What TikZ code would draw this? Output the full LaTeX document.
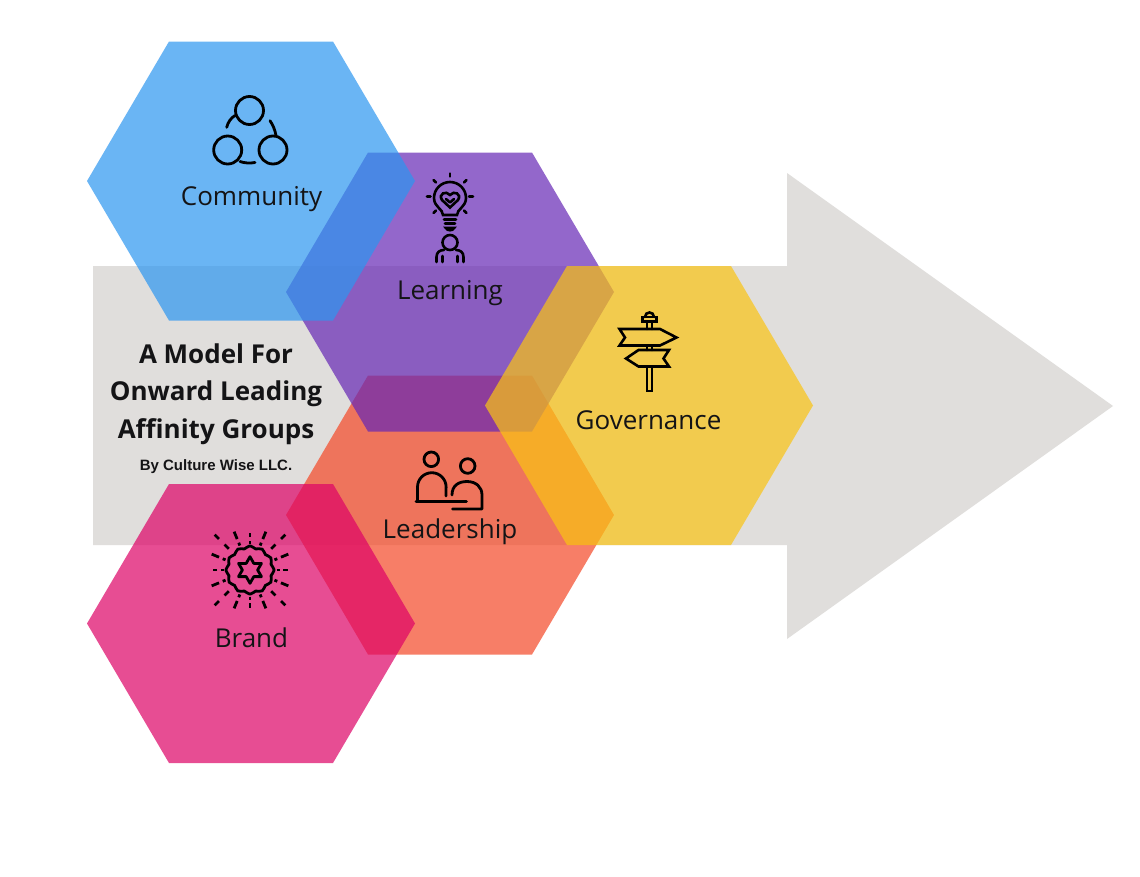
\documentclass[tikz,border=0pt]{standalone}
\usepackage{fontspec}
\setmainfont{Open Sans}
\newfontfamily\subfont{Liberation Sans}
\definecolor{hexblue}{RGB}{44,150,240}
\definecolor{hexpurple}{RGB}{102,39,181}
\definecolor{hexyellow}{RGB}{250,196,19}
\definecolor{hexorange}{RGB}{244,72,39}
\definecolor{hexpink}{RGB}{222,2,102}
\definecolor{arrowgrey}{RGB}{224,222,220}
\definecolor{inkcol}{RGB}{20,20,22}
\tikzset{
  hexa/.style={fill=#1,fill opacity=0.7,draw=none},
  icon/.style={draw=black,line width=2.8pt,line cap=round,line join=round},
  thin icon/.style={draw=black,line width=2.6pt,line cap=round,line join=miter},
  lab/.style={text=inkcol,font=\fontsize{26}{30}\selectfont,inner sep=0pt,anchor=base},
  ttl/.style={text=inkcol,font=\fontsize{26}{30}\selectfont\bfseries,inner sep=0pt,anchor=base},
  subttl/.style={text=inkcol,font=\fontsize{15}{18}\selectfont\subfont\bfseries,inner sep=0pt,anchor=base}
}
% hexagon with its left corner at (#1,#2)
\newcommand{\hexpath}[2]{(#1,#2) -- ++(82,-139.5) -- ++(164,0) -- ++(82,139.5) -- ++(-82,139.5) -- ++(-164,0) -- cycle}
\begin{document}
\begin{tikzpicture}[x=1pt,y=-1pt]
\useasboundingbox (0,0) rectangle (1140,876);
\fill[white] (0,0) rectangle (1140,876);
% arrow
\fill[arrowgrey] (93,266) -- (787,266) -- (787,173) -- (1113,406) -- (787,639) -- (787,545) -- (93,545) -- cycle;
% hexagons
\path[hexa=hexorange] \hexpath{286}{515};
\path[hexa=hexpurple] \hexpath{286}{292};
\path[hexa=hexblue] \hexpath{87}{181};
\path[hexa=hexpink] \hexpath{87}{623.5};
\path[hexa=hexyellow] \hexpath{485}{405.5};
% community icon
\begin{scope}[icon]
\draw (249.5,110.5) circle (14);
\draw (227.7,150) circle (14);
\draw (273,150) circle (14);
\draw (226.7,127.3) .. controls (228,122) and (231,118) .. (235,115.5);
\draw (270,120.7) .. controls (273,125) and (275,130) .. (276,135.5);
\draw (240,161.5) .. controls (244,163) and (250,163.5) .. (255,162.5);
\end{scope}
% learning icon
\begin{scope}[thin icon]
\draw (443,215) .. controls (443,209) and (434,207) .. (434,198) arc[start angle=180,end angle=360,radius=16] .. controls (466,207) and (457,209) .. (457,215) -- cycle;
\draw (444,219.5) -- (456,219.5);
\draw (445,223.5) -- (455,223.5);
\draw (446,228) .. controls (447,231) and (453,231) .. (454,228) -- cycle;
\draw (450,207.5) -- (442,200) .. controls (438,194) and (446,190) .. (450,195) .. controls (454,190) and (462,194) .. (458,200) -- cycle;
\draw (450,202.5) -- (446,199) (450,202.5) -- (454,199);
\draw (450,173.5) -- (450,176.5);
\draw (433.5,180) -- (436,182.5);
\draw (466.5,180) -- (464,182.5);
\draw (427,196.5) -- (430.5,196.5);
\draw (469,196.5) -- (473,196.5);
\draw (433.5,213) -- (436,210.5);
\draw (466.5,213) -- (464,210.5);
\draw (450,242.5) circle (7.5);
\draw (436.5,262) -- (436.5,257) .. controls (436.5,252) and (440,250) .. (444,250);
\draw (463.5,262) -- (463.5,257) .. controls (463.5,252) and (460,250) .. (456,250);
\draw (442.5,256) -- (442.5,262);
\draw (457.5,256) -- (457.5,262);
\end{scope}
% governance icon
\begin{scope}[thin icon]
\draw (619.5,329) -- (660,329) -- (676.5,337.5) -- (660,345.5) -- (619.5,345.5) -- (625,337.5) -- cycle;
\draw (669,350) -- (638.5,350) -- (626,358.5) -- (638.5,366.5) -- (669,366.5) -- (663.5,358.5) -- cycle;
\draw (647,368.5) -- (647,391) -- (652,391) -- (652,368.5);
\draw (647,345.5) -- (647,350) (652,345.5) -- (652,350);
\draw (647,329) -- (647,321.5) (652,329) -- (652,321.5);
\draw (642.5,321.5) rectangle (656.5,317);
\draw (645,317) .. controls (645,311) and (654,311) .. (654,317);
\end{scope}
% leadership icon
\begin{scope}[icon]
\draw (431.3,459.3) circle (7.3);
\draw (467.7,466) circle (7.3);
\draw (416,501.5) -- (466.5,501.5);
\draw (417.5,501.5) -- (417.5,487) arc[start angle=180,end angle=360,radius=14.3] -- (446,496);
\draw (452,495) .. controls (452,486) and (458,481.5) .. (467,481.5) .. controls (476,481.5) and (482,487) .. (482,495) -- (482,509) -- (452.5,509);
\end{scope}
% brand icon
\begin{scope}[line width=2.8pt,draw=black,line join=round]
\draw (250,556.7) -- (253.8,563.4) -- (261.5,563.4) -- (257.6,570) -- (261.5,576.6) -- (253.8,576.6) -- (250,583.3) -- (246.2,576.6) -- (238.5,576.6) -- (242.4,570) -- (238.5,563.4) -- (246.2,563.4) -- cycle;
\draw[smooth cycle] plot[domain=0:352.5,samples=48] ({250+(23+1.2*cos(12*\x))*cos(\x)},{570+(23+1.2*cos(12*\x))*sin(\x)});
\foreach \a in {0,90,180,270}{
  \draw ({250+26.5*cos(\a)},{570+26.5*sin(\a)}) -- ({250+29.5*cos(\a)},{570+29.5*sin(\a)});
  \draw ({250+33*cos(\a)},{570+33*sin(\a)}) -- ({250+37.5*cos(\a)},{570+37.5*sin(\a)});
}
\foreach \a in {45,135,225,315}{
  \draw ({250+30*cos(\a)},{570+30*sin(\a)}) -- ({250+36*cos(\a)},{570+36*sin(\a)});
  \draw ({250+44*cos(\a)},{570+44*sin(\a)}) -- ({250+50*cos(\a)},{570+50*sin(\a)});
}
\foreach \a in {22.5,67.5,112.5,157.5,202.5,247.5,292.5,337.5}{
  \draw ({250+26.5*cos(\a)},{570+26.5*sin(\a)}) -- ({250+29.5*cos(\a)},{570+29.5*sin(\a)});
  \draw ({250+33.5*cos(\a)},{570+33.5*sin(\a)}) -- ({250+41.5*cos(\a)},{570+41.5*sin(\a)});
}
\end{scope}
% labels
\node[lab] (community) at (251.5,205) {Community};
\node[lab] (learning) at (450,299) {Learning};
\node[lab] (governance) at (648.5,429) {Governance};
\node[lab] (leadership) at (450,538) {Leadership};
\node[lab] (brand) at (251.5,647) {Brand};
\node[ttl] (t1) at (216,363) {A Model For};
\node[ttl] (t2) at (216,400) {Onward Leading};
\node[ttl] (t3) at (216,438) {Affinity Groups};
\node[subttl] (t4) at (216,470) {By Culture Wise LLC.};
\end{tikzpicture}
\end{document}
